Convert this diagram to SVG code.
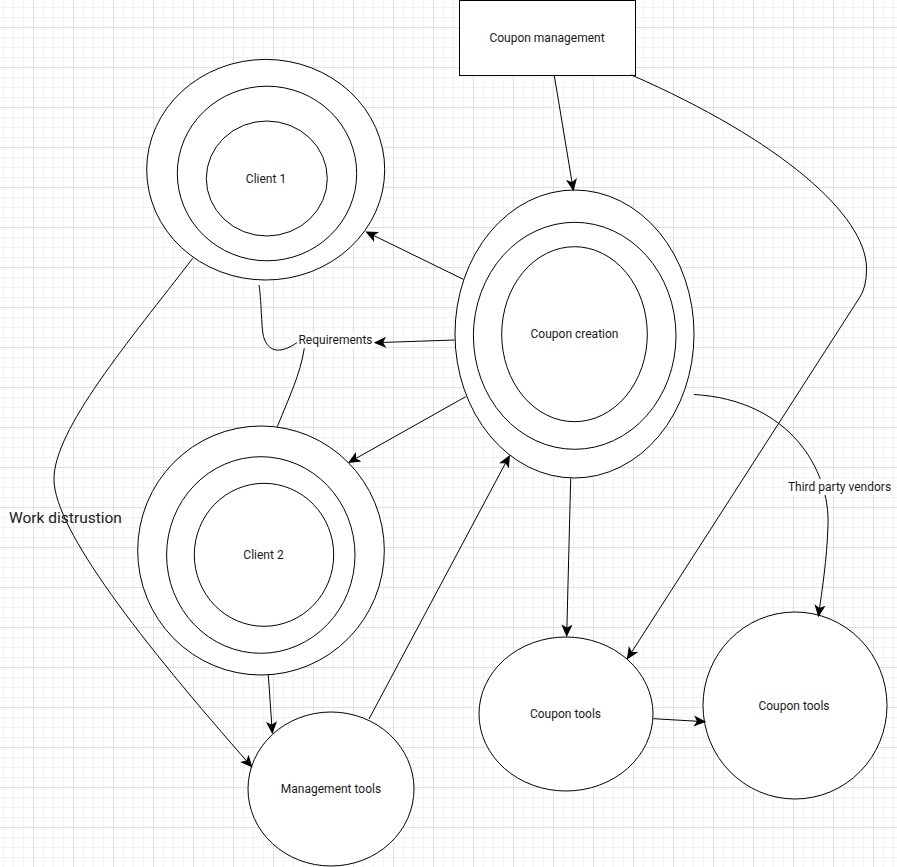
<svg xmlns="http://www.w3.org/2000/svg" width="897" height="867" viewBox="0 0 897 867">
<style>
.n{fill:#fff;stroke:#000;stroke-width:1}
.e{fill:none;stroke:#000;stroke-width:1}
.t{font-family:Roboto,"Liberation Sans",sans-serif;font-size:12px;fill:#1a1a1a;text-anchor:middle;dominant-baseline:central}
.lb{fill:#fff}
</style>
<defs>
<pattern id="grid" patternUnits="userSpaceOnUse" x="33" y="27" width="40" height="40">
<rect x="10" y="0" width="1" height="40" fill="#f2f2f2"/>
<rect x="20" y="0" width="1" height="40" fill="#f2f2f2"/>
<rect x="30" y="0" width="1" height="40" fill="#f2f2f2"/>
<rect x="0" y="10" width="40" height="1" fill="#f2f2f2"/>
<rect x="0" y="20" width="40" height="1" fill="#f2f2f2"/>
<rect x="0" y="30" width="40" height="1" fill="#f2f2f2"/>
<rect x="0" y="0" width="1" height="40" fill="#e0e0e0"/>
<rect x="0" y="0" width="40" height="1" fill="#e0e0e0"/>
</pattern>
<marker id="arr" markerUnits="userSpaceOnUse" markerWidth="14" markerHeight="12" viewBox="-11 -6 12 12" refX="0" refY="0" orient="auto" overflow="visible">
<path d="M-10,-4.5 L0,0 L-10,4.5 L-7.5,0 Z" fill="#000" stroke="#000" stroke-width="1"/>
</marker>
</defs>
<rect width="897" height="867" fill="#fff"/>
<rect width="897" height="867" fill="url(#grid)"/>

<g id="coupon-management">
<rect class="n" x="459.5" y="0.5" width="176" height="75"/>
<text class="t" x="547" y="38">Coupon management</text>
</g>
<g id="client-1">
<ellipse class="n" cx="265.7" cy="169.7" rx="119" ry="110.3"/>
<ellipse class="n" cx="267" cy="173.5" rx="89.7" ry="87.3"/>
<ellipse class="n" cx="266.8" cy="178.5" rx="60.5" ry="57.5"/>
<text class="t" x="266" y="179">Client 1</text>
</g>
<g id="coupon-creation">
<ellipse class="n" cx="574.5" cy="334" rx="119.5" ry="144"/>
<ellipse class="n" cx="574.7" cy="335.8" rx="101.3" ry="113.5"/>
<ellipse class="n" cx="574.5" cy="334.2" rx="72.8" ry="87.5"/>
<text class="t" x="574.5" y="334">Coupon creation</text>
</g>
<g id="client-2">
<ellipse class="n" cx="261" cy="550.5" rx="123.3" ry="124.5"/>
<ellipse class="n" cx="260.8" cy="555" rx="94.2" ry="98.3"/>
<ellipse class="n" cx="264" cy="554.8" rx="69.7" ry="71.5"/>
<text class="t" x="263.5" y="555">Client 2</text>
</g>
<g id="management-tools">
<ellipse class="n" cx="331" cy="789" rx="83" ry="77"/>
<text class="t" x="331" y="789">Management tools</text>
</g>
<g id="coupon-tools-1">
<ellipse class="n" cx="566" cy="714" rx="87" ry="77"/>
<text class="t" x="565.5" y="714">Coupon tools</text>
</g>
<g id="coupon-tools-2">
<ellipse class="n" cx="795" cy="705.5" rx="92" ry="93.5"/>
<text class="t" x="794" y="706">Coupon tools</text>
</g>

<g id="connectors">
<path class="e" d="M554.3,75.5 L573.3,190" marker-end="url(#arr)"/>
<path class="e" d="M631.5,75 C780,140 866,215 866.5,268 Q867,288 858,300 L627.5,658.5" marker-end="url(#arr)"/>
<path class="e" d="M463.3,279.3 L366.5,232" marker-end="url(#arr)"/>
<path class="e" d="M454.5,340 L375,342.7" marker-end="url(#arr)"/>
<path class="e" d="M465.7,396.7 L349,462.3" marker-end="url(#arr)"/>
<path class="e" d="M570.7,478.5 L566.7,635.7" marker-end="url(#arr)"/>
<path class="e" d="M694,394.5 C790,400 830,470 828,525 C827,560 822,590 818.5,616" marker-end="url(#arr)"/>
<path class="e" d="M653.3,718.7 L705,721.7" marker-end="url(#arr)"/>
<path class="e" d="M268.3,675 L272.3,732.7" marker-end="url(#arr)"/>
<path class="e" d="M369,719 L509.3,456" marker-end="url(#arr)"/>
<path class="e" d="M192.7,258.3 C130,340 53,430 54,480 C55,530 140,640 251.7,766.7" marker-end="url(#arr)"/>
<path class="e" d="M259,285 C262,305 261,330 264,338 C268,350 278,356 298,342"/>
<path class="e" d="M304.3,348.3 C300,375 290,395 277.3,426.7"/>
<rect class="lb" x="297" y="332" width="77" height="16"/>
<text class="t" x="335.5" y="340">Requirements</text>
<rect class="lb" x="786" y="479" width="107" height="16"/>
<text class="t" x="839.5" y="487">Third party vendors</text>
<text x="9" y="518" style="font-family:Roboto,'Liberation Sans',sans-serif;font-size:15.5px;fill:#1a1a1a;dominant-baseline:central">Work distrustion</text>
</g>
</svg>
